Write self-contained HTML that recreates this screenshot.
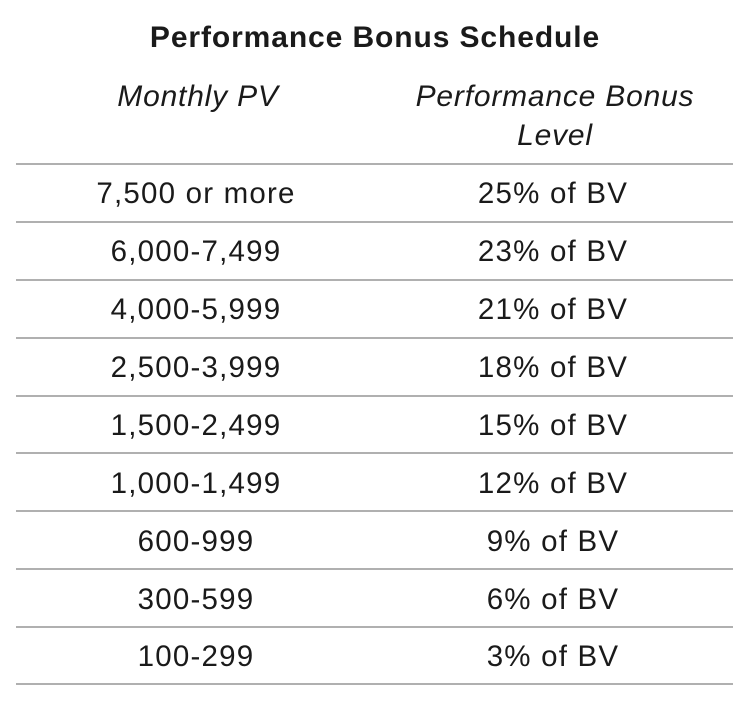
<!DOCTYPE html>
<html><head><style>
body{margin:0;width:750px;height:703px;background:#fff;font-family:"Liberation Sans",sans-serif;color:#1a1a1a;position:relative;overflow:hidden}
.t{position:absolute;white-space:nowrap;transform:translate(-50%,-50%)}
.line{position:absolute;left:16px;width:717px;height:2px;background:#b0b0b0}
.r{font-size:29.5px;letter-spacing:1.2px}
.h{font-size:30px;font-style:italic;letter-spacing:0.8px}
</style></head><body>
<div class="t" style="left:375px;top:38px;font-size:30px;font-weight:bold;letter-spacing:0.9px">Performance Bonus Schedule</div>
<div class="t h" style="left:198px;top:97px">Monthly PV</div>
<div class="t h" style="left:555px;top:97px">Performance Bonus</div>
<div class="t h" style="left:555px;top:136px">Level</div>
<div class="line" style="top:163px"></div>
<div class="line" style="top:221px"></div>
<div class="line" style="top:279px"></div>
<div class="line" style="top:337px"></div>
<div class="line" style="top:395px"></div>
<div class="line" style="top:452px"></div>
<div class="line" style="top:510px"></div>
<div class="line" style="top:568px"></div>
<div class="line" style="top:626px"></div>
<div class="line" style="top:683px"></div>
<div class="t r" style="left:196px;top:194px">7,500 or more</div><div class="t r" style="left:553px;top:194px">25% of BV</div>
<div class="t r" style="left:196px;top:252px">6,000-7,499</div><div class="t r" style="left:553px;top:252px">23% of BV</div>
<div class="t r" style="left:196px;top:310px">4,000-5,999</div><div class="t r" style="left:553px;top:310px">21% of BV</div>
<div class="t r" style="left:196px;top:368px">2,500-3,999</div><div class="t r" style="left:553px;top:368px">18% of BV</div>
<div class="t r" style="left:196px;top:426px">1,500-2,499</div><div class="t r" style="left:553px;top:426px">15% of BV</div>
<div class="t r" style="left:196px;top:484px">1,000-1,499</div><div class="t r" style="left:553px;top:484px">12% of BV</div>
<div class="t r" style="left:196px;top:542px">600-999</div><div class="t r" style="left:553px;top:542px">9% of BV</div>
<div class="t r" style="left:196px;top:600px">300-599</div><div class="t r" style="left:553px;top:600px">6% of BV</div>
<div class="t r" style="left:196px;top:657px">100-299</div><div class="t r" style="left:553px;top:657px">3% of BV</div>
</body></html>
